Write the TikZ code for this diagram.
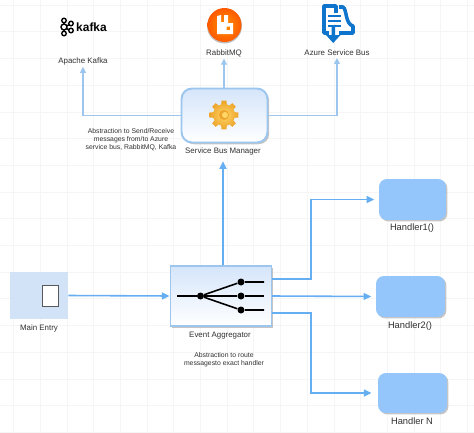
\documentclass[tikz,border=0pt]{standalone}
\usepackage{fontspec}
\usepackage{xcolor}
\setmainfont{Liberation Sans}
\usetikzlibrary{shadows,arrows.meta}
\definecolor{linkblue}{HTML}{66AEF2}
\definecolor{paleblue}{HTML}{9CC6EE}
\definecolor{boxtop}{HTML}{D5E5FA}
\definecolor{handlerblue}{HTML}{94C6FB}
\definecolor{entryblue}{HTML}{D3E3F7}
\definecolor{azureblue}{HTML}{0F74CC}
\definecolor{gearlight}{HTML}{FFD766}
\definecolor{geardark}{HTML}{EDA42C}
\definecolor{txtgray}{HTML}{303030}

\begin{document}
\begin{tikzpicture}[
  x=0.02cm, y=-0.02cm,
  gridline/.style={draw=black!4, line width=0.3pt},
  lbl/.style={font=\fontsize{4.5}{5.4}\selectfont, text=txtgray, inner sep=1pt, align=center},
  note/.style={font=\fontsize{3.9}{4.6}\selectfont, text=txtgray, inner sep=0pt, align=center},
  arr/.style={-{Triangle[length=3.4pt, width=3.4pt]}, draw=paleblue, line width=0.6pt},
  mainarr/.style={-{Triangle[length=4.4pt, width=4pt]}, draw=linkblue, line width=0.9pt},
  panel/.style={draw=paleblue, line width=1.1pt, top color=boxtop, bottom color=white,
                inner sep=0pt, drop shadow={shadow xshift=1pt, shadow yshift=-1pt, fill=black!45, opacity=0.5}},
  handler/.style={fill=handlerblue, rounded corners=4.5pt, inner sep=0pt,
                  drop shadow={shadow xshift=0.8pt, shadow yshift=-0.8pt, fill=black!45, opacity=0.5}},
  dot/.style={circle, fill=black, inner sep=0pt, minimum size=0.14cm},
  kafkaring/.style={circle, draw=black, line width=0.8pt, fill=white, inner sep=0pt}
]
\useasboundingbox (0,0) rectangle (474,433);
% Background grid
\foreach \i in {0,...,17} \draw[gridline] ({13.4+26.7*\i},0) -- ({13.4+26.7*\i},433);
\foreach \i in {0,...,16} \draw[gridline] (0,{5+26.7*\i}) -- (474,{5+26.7*\i});

% Service bus labels
\node[lbl] (kafkalbl)  at (83,61)  {Apache Kafka};
\node[lbl] (rabbitlbl) at (224,53) {RabbitMQ};
\node[lbl] (azurelbl)  at (337,53) {Azure Service Bus};

% Kafka logo
\draw[line width=0.8pt] (64,20) -- (64,34) (64,27) -- (71,24) (64,27) -- (71,31);
\node[kafkaring, minimum size=0.09cm] (ringa) at (64,20.5) {};
\node[kafkaring, minimum size=0.12cm] (ringb) at (64,27) {};
\node[kafkaring, minimum size=0.09cm] (ringc) at (64,33.5) {};
\node[kafkaring, minimum size=0.09cm] (ringd) at (71,23.5) {};
\node[kafkaring, minimum size=0.09cm] (ringe) at (71,30.5) {};
\node[inner sep=0pt, font=\fontsize{6.8}{7}\selectfont\bfseries] (kafkaword) at (91.5,27) {kafka};

% RabbitMQ logo
\fill[black!25] (224.5,26) circle (17.5);
\shade[inner color=orange!85!yellow, outer color=orange!70!red] (224.5,25) circle (17);
\fill[white, even odd rule] (217,16) -- (217,34) -- (233,34) -- (233,23) -- (228,23) -- (228,15)
  -- (224,15) -- (224,22) -- (221,22) -- (221,15) -- cycle
  (226.5,26.5) rectangle (230,30);

% Azure logo
\draw[azureblue, line width=2pt, line join=round]
  (329,33) -- (324,33) -- (324,6) -- (336,6) -- (336,13);
\draw[azureblue, line width=2pt, line join=round]
  (339,7) -- (343,7) .. controls (347,9) and (345,24) .. (353,26) -- (353,33) -- (339,33);
\draw[azureblue, line width=1.4pt] (328,16) -- (341,16) (328,21) -- (341,21) (328,26) -- (341,26);
\fill[azureblue] (331.5,26) -- (335,26) -- (335,35) -- (340.5,35) -- (333.2,43) -- (326,35) -- (331.5,35) -- cycle;

% Service Bus Manager
\node[panel, rounded corners=6pt, minimum width=1.72cm, minimum height=1.08cm] (manager) at (224.5,115.5) {};
\begin{scope}[shift={(224,115)}]
\shade[inner color=gearlight, outer color=geardark] (-15:11)
  \foreach \a in {0,45,...,315} { -- (\a-15:11) -- (\a-10:14.5) -- (\a+10:14.5) -- (\a+15:11)} -- cycle;
\fill[geardark] (0,0) circle (5);
\fill[gearlight] (1,0) circle (3);
\end{scope}
\node[lbl] (managerlbl) at (223,151) {Service Bus Manager};
\node[note] (managernote) at (131,140) {Abstraction to Send/Receive\\messages from/to Azure\\service bus, RabbitMQ, Kafka};

% Main Entry
\node[fill=entryblue, minimum width=1.16cm, minimum height=0.94cm, inner sep=0pt] (entry) at (39,295.5) {};
\node[draw=black!65, fill=white, line width=0.6pt, minimum width=0.32cm, minimum height=0.42cm, inner sep=0pt] (entrydoc) at (50.5,296) {};
\node[lbl] (entrylbl) at (39,328) {Main Entry};

% Event Aggregator
\node[panel, minimum width=2.02cm, minimum height=1.2cm] (aggregator) at (221,296) {};
\node[dot] (hub) at (200.5,296) {};
\node[dot] (taba) at (241,282) {};
\node[dot] (tabb) at (241,296) {};
\node[dot] (tabc) at (241,310) {};
\coordinate (symin) at (177,296);
\coordinate (symouta) at (264,282);
\coordinate (symoutb) at (264,296);
\coordinate (symoutc) at (264,310);
\draw[line width=0.9pt] (symin) -- (hub) -- (tabb) -- (symoutb);
\draw[line width=0.9pt] (hub) -- (taba) -- (symouta);
\draw[line width=0.9pt] (hub) -- (tabc) -- (symoutc);
\node[lbl] (aggregatorlbl) at (220,336) {Event Aggregator};
\node[note] (aggregatornote) at (224,360) {Abstraction to route\\messagesto exact handler};

% Handlers
\node[handler, minimum width=1.34cm, minimum height=0.82cm] (handlera) at (412.5,199.5) {};
\node[handler, minimum width=1.38cm, minimum height=0.82cm] (handlerb) at (410.5,296.5) {};
\node[handler, minimum width=1.38cm, minimum height=0.80cm] (handlerc) at (412.5,393) {};
\node[lbl, font=\fontsize{5.3}{6}\selectfont] (handleralbl) at (412,228) {Handler1()};
\node[lbl, font=\fontsize{5.3}{6}\selectfont] (handlerblbl) at (410,326) {Handler2()};
\node[lbl, font=\fontsize{5.3}{6}\selectfont] (handlerclbl) at (412,421) {Handler N};

% Arrows
\coordinate (outa) at (272,279);
\coordinate (outb) at (272,296);
\coordinate (outc) at (272,313);
\coordinate (trunk) at (311,296);
\draw[arr] (manager.west) -| (kafkalbl.south);
\draw[arr] (manager.north -| rabbitlbl.south) -- (rabbitlbl.south);
\draw[arr] (manager.east) -| (azurelbl.south);
\draw[mainarr, shorten >=2.5pt] (aggregator.north -| managerlbl.south) -- (managerlbl.south);
\draw[mainarr] (entry.east) -- (aggregator.west);
\draw[mainarr, shorten >=2.5pt] (outa) -- (outa -| trunk) |- (handlera.west);
\draw[mainarr, shorten >=2.5pt] (outb) -- (handlerb.west);
\draw[mainarr, shorten >=3.5pt] (outc) -- (outc -| trunk) |- (handlerc.west);
\end{tikzpicture}
\end{document}
